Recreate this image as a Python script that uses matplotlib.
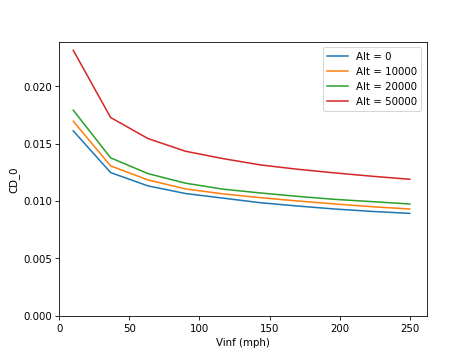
import numpy as np
import matplotlib
matplotlib.use('Agg')
import matplotlib.pyplot as plt

# speeds (mph) and CD_0 for each altitude
vinf = [10, 36.67, 63.33, 90, 116.67, 143.33, 170, 196.67, 223.33, 250]
alts = [0, 10000, 20000, 50000]

cd0_0 = [0.01610, 0.01247, 0.01131, 0.01065, 0.01025, 0.00985, 0.00956, 0.00930, 0.00909, 0.00892]
cd0_10000 = [0.01694, 0.01305, 0.01183, 0.01105, 0.01062, 0.01029, 0.01000, 0.00974, 0.00950, 0.00930]
cd0_20000 = [0.01790, 0.01375, 0.01238, 0.01155, 0.01103, 0.01070, 0.01040, 0.01014, 0.00994, 0.00974]
cd0_50000 = [0.02311, 0.01726, 0.01543, 0.01433, 0.01369, 0.01314, 0.01276, 0.01244, 0.01215, 0.01189]

curves = [cd0_0, cd0_10000, cd0_20000, cd0_50000]

fig = plt.figure(figsize=(6.4, 4.8), dpi=74.06)
for alt, cd in zip(alts, curves):
    plt.plot(vinf, cd, label=f'Alt = {alt}')
plt.xlim(left=0)
plt.ylim(bottom=0)
plt.xlabel('Vinf (mph)')
plt.ylabel('CD_0')
plt.legend(loc='upper right')
plt.savefig('out.png', dpi=74.06)
